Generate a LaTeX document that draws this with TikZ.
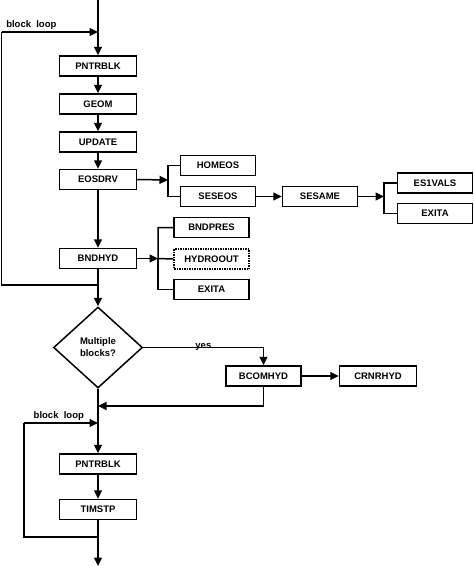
\documentclass[tikz,border=0pt]{standalone}
\usepackage{fontspec}
\setmainfont{Liberation Sans}
\usetikzlibrary{arrows.meta,shapes.geometric,positioning}

\begin{document}
\begin{tikzpicture}[x=1pt,y=-1pt,line width=1.5pt,
    font=\fontsize{9.5}{11}\selectfont\bfseries,
    >={Triangle[length=8.5pt,width=8pt]},
    box/.style={draw,rectangle,minimum width=77pt,minimum height=20pt,inner sep=1pt},
    sbox/.style={box,minimum width=75pt},
    dbox/.style={sbox,densely dotted},
    decision/.style={draw,diamond,aspect=1.1,minimum width=89pt,minimum height=81pt,inner sep=0pt,align=center}]

    \useasboundingbox (0,0) rectangle (474,566);

    % main column
    \node[box] (pntr1) at (98,66) {PNTRBLK};
    \node[box] (geom) at (98,104) {GEOM};
    \node[box] (update) at (98,142) {UPDATE};
    \node[box] (eosdrv) at (98,179.5) {EOSDRV};
    \node[box] (bndhyd) at (98,258.5) {BNDHYD};
    \node[decision] (mult) at (98,347.5) {Multiple\\[1pt]blocks?};
    \node[box] (pntr2) at (98,464) {PNTRBLK};
    \node[box] (timstp) at (98,509.5) {TIMSTP};

    % eos branch
    \node[sbox] (homeos) at (218,165.5) {HOMEOS};
    \node[sbox] (seseos) at (218,196.5) {SESEOS};
    \node[sbox] (sesame) at (320,196.5) {SESAME};
    \node[sbox] (es1vals) at (435,183) {ES1VALS};
    \node[sbox] (exita1) at (435,213.5) {EXITA};

    % hydro branch
    \node[sbox] (bndpres) at (211.5,227.5) {BNDPRES};
    \node[dbox] (hydroout) at (211.5,259) {HYDROOUT};
    \node[sbox] (exita2) at (211.5,289.5) {EXITA};

    \node[sbox] (bcomhyd) at (263.5,376) {BCOMHYD};
    \node[box] (crnrhyd) at (378,376) {CRNRHYD};

    \coordinate (top) at (98,0);
    \coordinate (loop1) at (98,32);
    \coordinate (loop1L) at (1.5,32);
    \coordinate (ret1L) at (1.5,285);
    \coordinate (ret1) at (98,285);
    \coordinate (br1) at (168,180);
    \coordinate (br2) at (158,258.5);
    \coordinate (br3) at (384,196.5);
    \coordinate (merge) at (98,406);
    \coordinate (loop2) at (98,423);
    \coordinate (loop2L) at (24,423);
    \coordinate (ret2L) at (24,537);
    \coordinate (ret2) at (98,537);
    \coordinate (bottom) at (98,566);

    % first block loop
    \draw [->] (top) -- (pntr1);
    \draw [->] (loop1L) -- (loop1) node[pos=0,above right,inner sep=2pt,xshift=2pt] {block\ \ loop};
    \draw (loop1L) -- (ret1L) -- (ret1);
    \draw [->] (pntr1) -- (geom);
    \draw [->] (geom) -- (update);
    \draw [->] (update) -- (eosdrv);
    \draw [->] (eosdrv) -- (bndhyd);
    \draw [->] (bndhyd) -- (mult);

    \draw [->] (eosdrv.east) -- (br1);
    \draw (homeos.west) -| (br1) |- (seseos.west);
    \draw [->] (seseos) -- (sesame);
    \draw [->] (sesame) -- (br3);
    \draw (es1vals.west) -| (br3) |- (exita1.west);

    \draw [->] (bndhyd.east) -- (br2);
    \draw (bndpres.west) -| (br2) -- (hydroout.west);
    \draw (br2) |- (exita2.west);

    % multiple blocks
    \draw [->] (mult.east) -| (bcomhyd.north) node[pos=0.25,inner sep=0pt,yshift=1pt] {yes};
    \draw [->] (bcomhyd) -- (crnrhyd);
    \draw [->] (bcomhyd.south) |- (merge);
    \draw [->] (mult) -- (pntr2);

    % second block loop
    \draw [->] (loop2L) -- (loop2) node[pos=0,above right,inner sep=2pt,xshift=7pt] {block\ \ loop};
    \draw (loop2L) -- (ret2L) -- (ret2);
    \draw [->] (pntr2) -- (timstp);
    \draw [->] (timstp) -- (bottom);
\end{tikzpicture}
\end{document}
